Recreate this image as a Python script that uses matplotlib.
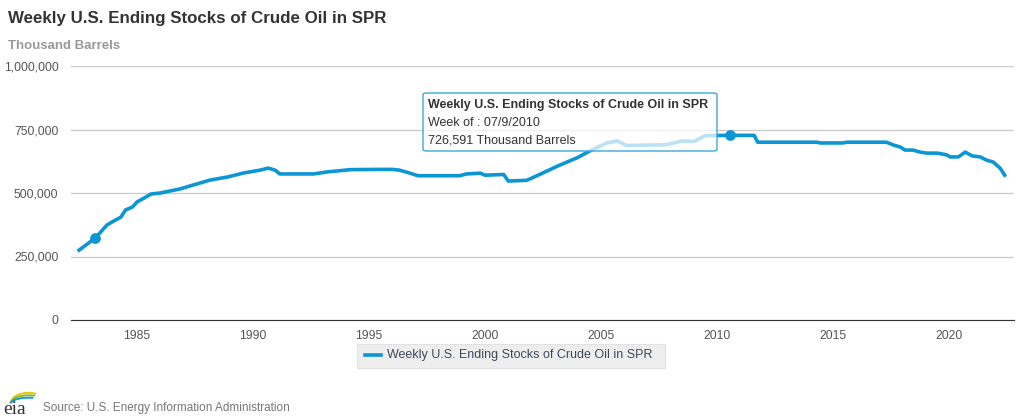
import matplotlib
matplotlib.use("Agg")
import matplotlib.pyplot as plt
from matplotlib.patches import FancyBboxPatch, Arc
import matplotlib.ticker as mticker

plt.rcParams['font.family'] = ['Liberation Sans', 'DejaVu Sans']

# decimal year, thousand barrels
years = [1982.5, 1983.2, 1983.7, 1984.0, 1984.3, 1984.5, 1984.8, 1985.0, 1985.3,
         1985.6, 1986.0, 1986.85, 1987.4, 1988.15, 1988.9, 1989.6, 1990.3, 1990.65,
         1990.95, 1991.15, 1992.6, 1993.2, 1994.2, 1995.5, 1996.0, 1996.3, 1996.7,
         1997.1, 1998.9, 1999.2, 1999.8, 2000.0, 2000.8, 2001.0, 2001.8, 2002.4,
         2003.1, 2004.0, 2004.5, 2005.25, 2005.7, 2006.1, 2007.8, 2008.5, 2009.0,
         2009.5, 2010.55, 2011.6, 2011.75, 2013.6, 2014.3, 2014.45, 2015.4, 2015.6,
         2017.3, 2017.6, 2017.9, 2018.1, 2018.45, 2018.75, 2019.05, 2019.5, 2019.9,
         2020.05, 2020.4, 2020.7, 2021.0, 2021.35, 2021.6, 2021.9, 2022.2, 2022.4]
stocks = [275, 323, 374, 390, 405, 433, 445, 465, 480,
          496, 500, 516, 531, 551, 563, 579, 590, 598,
          590, 575, 575, 583, 592, 593, 593, 590, 580,
          568, 568, 575, 578, 570, 573, 547, 550, 575,
          605, 640, 665, 697, 705, 687, 690, 705, 703,
          726, 727, 727, 700, 700, 700, 697, 697, 700,
          700, 689, 681, 669, 669, 661, 657, 657, 650,
          642, 642, 661, 646, 642, 630, 622, 598, 570]
stocks = [v * 1000 for v in stocks]

marker_years = [1983.2, 2010.55]
marker_vals = [323000, 726591]

series_name = "Weekly U.S. Ending Stocks of Crude Oil in SPR"
tick_years = [1985, 1990, 1995, 2000, 2005, 2010, 2015, 2020]

blue = "#0d96d4"

fig = plt.figure(figsize=(10.24, 4.19), dpi=100)
ax = fig.add_axes([71 / 1024, 1 - 320 / 419, 943 / 1024, 254 / 419])

ax.plot(years, stocks, color=blue, lw=2.6, solid_joinstyle="round", zorder=3)
ax.scatter(marker_years, marker_vals, s=45, color=blue, zorder=4)

ax.set_xlim(1982.15, 2022.8)
ax.set_ylim(0, 1000000)
ax.set_yticks([0, 250000, 500000, 750000, 1000000])
ax.yaxis.set_major_formatter(mticker.FuncFormatter(lambda v, p: f"{int(v):,}"))
ax.set_xticks(tick_years)
ax.grid(axis="y", color="#cccccc", lw=1)
ax.set_axisbelow(True)
for s in ["top", "right", "left"]:
    ax.spines[s].set_visible(False)
ax.spines["bottom"].set_color("#333333")
ax.tick_params(axis="y", length=0, pad=9, labelsize=8.7, labelcolor="#555555")
ax.tick_params(axis="x", length=0, pad=7, labelsize=8.7, labelcolor="#555555")

# title and unit
fig.text(8 / 1024, 1 - 18 / 419, series_name, fontsize=12.2, fontweight="bold",
         color="#333333", va="center")
fig.text(8 / 1024, 1 - 46 / 419, "Thousand Barrels", fontsize=9.5, fontweight="bold",
         color="#999999", va="center")

# tooltip
tip = FancyBboxPatch((423 / 1024, 1 - 151 / 419), 294 / 1024, 58 / 419,
                     boxstyle="round,pad=0,rounding_size=0.004",
                     transform=fig.transFigure, facecolor="white", alpha=0.72,
                     edgecolor="none", zorder=10)
fig.patches.append(tip)
tip_edge = FancyBboxPatch((423 / 1024, 1 - 151 / 419), 294 / 1024, 58 / 419,
                          boxstyle="round,pad=0,rounding_size=0.004",
                          transform=fig.transFigure, facecolor="none",
                          edgecolor="#3aa8dc", lw=1, zorder=11)
fig.patches.append(tip_edge)
fig.text(428 / 1024, 1 - 105 / 419, series_name, fontsize=9, fontweight="bold",
         color="#333333", va="center", zorder=12)
fig.text(428 / 1024, 1 - 123 / 419, "Week of : 07/9/2010", fontsize=9,
         color="#333333", va="center", zorder=12)
fig.text(428 / 1024, 1 - 140 / 419, "726,591 Thousand Barrels", fontsize=9,
         color="#333333", va="center", zorder=12)

# legend
leg = FancyBboxPatch((357 / 1024, 1 - 368 / 419), 308 / 1024, 24 / 419,
                     boxstyle="square,pad=0", transform=fig.transFigure,
                     facecolor="#eeeeee", edgecolor="#e2e2e2", lw=0.8)
fig.patches.append(leg)
fig.lines.append(plt.Line2D([365 / 1024, 381 / 1024], [1 - 355 / 419] * 2,
                            color=blue, lw=2.6, transform=fig.transFigure))
fig.text(387 / 1024, 1 - 355 / 419, series_name, fontsize=9, color="#3d4a5c",
         va="center")

# footer with simple eia mark
fig.text(3 / 1024, 1 - 409 / 419, "eia", family="Liberation Serif", fontsize=14,
         color="#333333", va="center")
logo = fig.add_axes([6 / 1024, 1 - 404 / 419, 30 / 1024, 14 / 419])
logo.set_xlim(0, 1)
logo.set_ylim(0, 1)
logo.axis("off")
for i, c in enumerate(["#f2c200", "#7bbf3a", "#1a9ad6"]):
    logo.add_patch(Arc((0.75, 0.0), 1.2, 1.6 - i * 0.35,
                       theta1=70, theta2=175, color=c, lw=1.4))
fig.text(43 / 1024, 1 - 408 / 419, "Source: U.S. Energy Information Administration",
         fontsize=8.5, color="#777777", va="center")

fig.savefig("out.png", dpi=100)
